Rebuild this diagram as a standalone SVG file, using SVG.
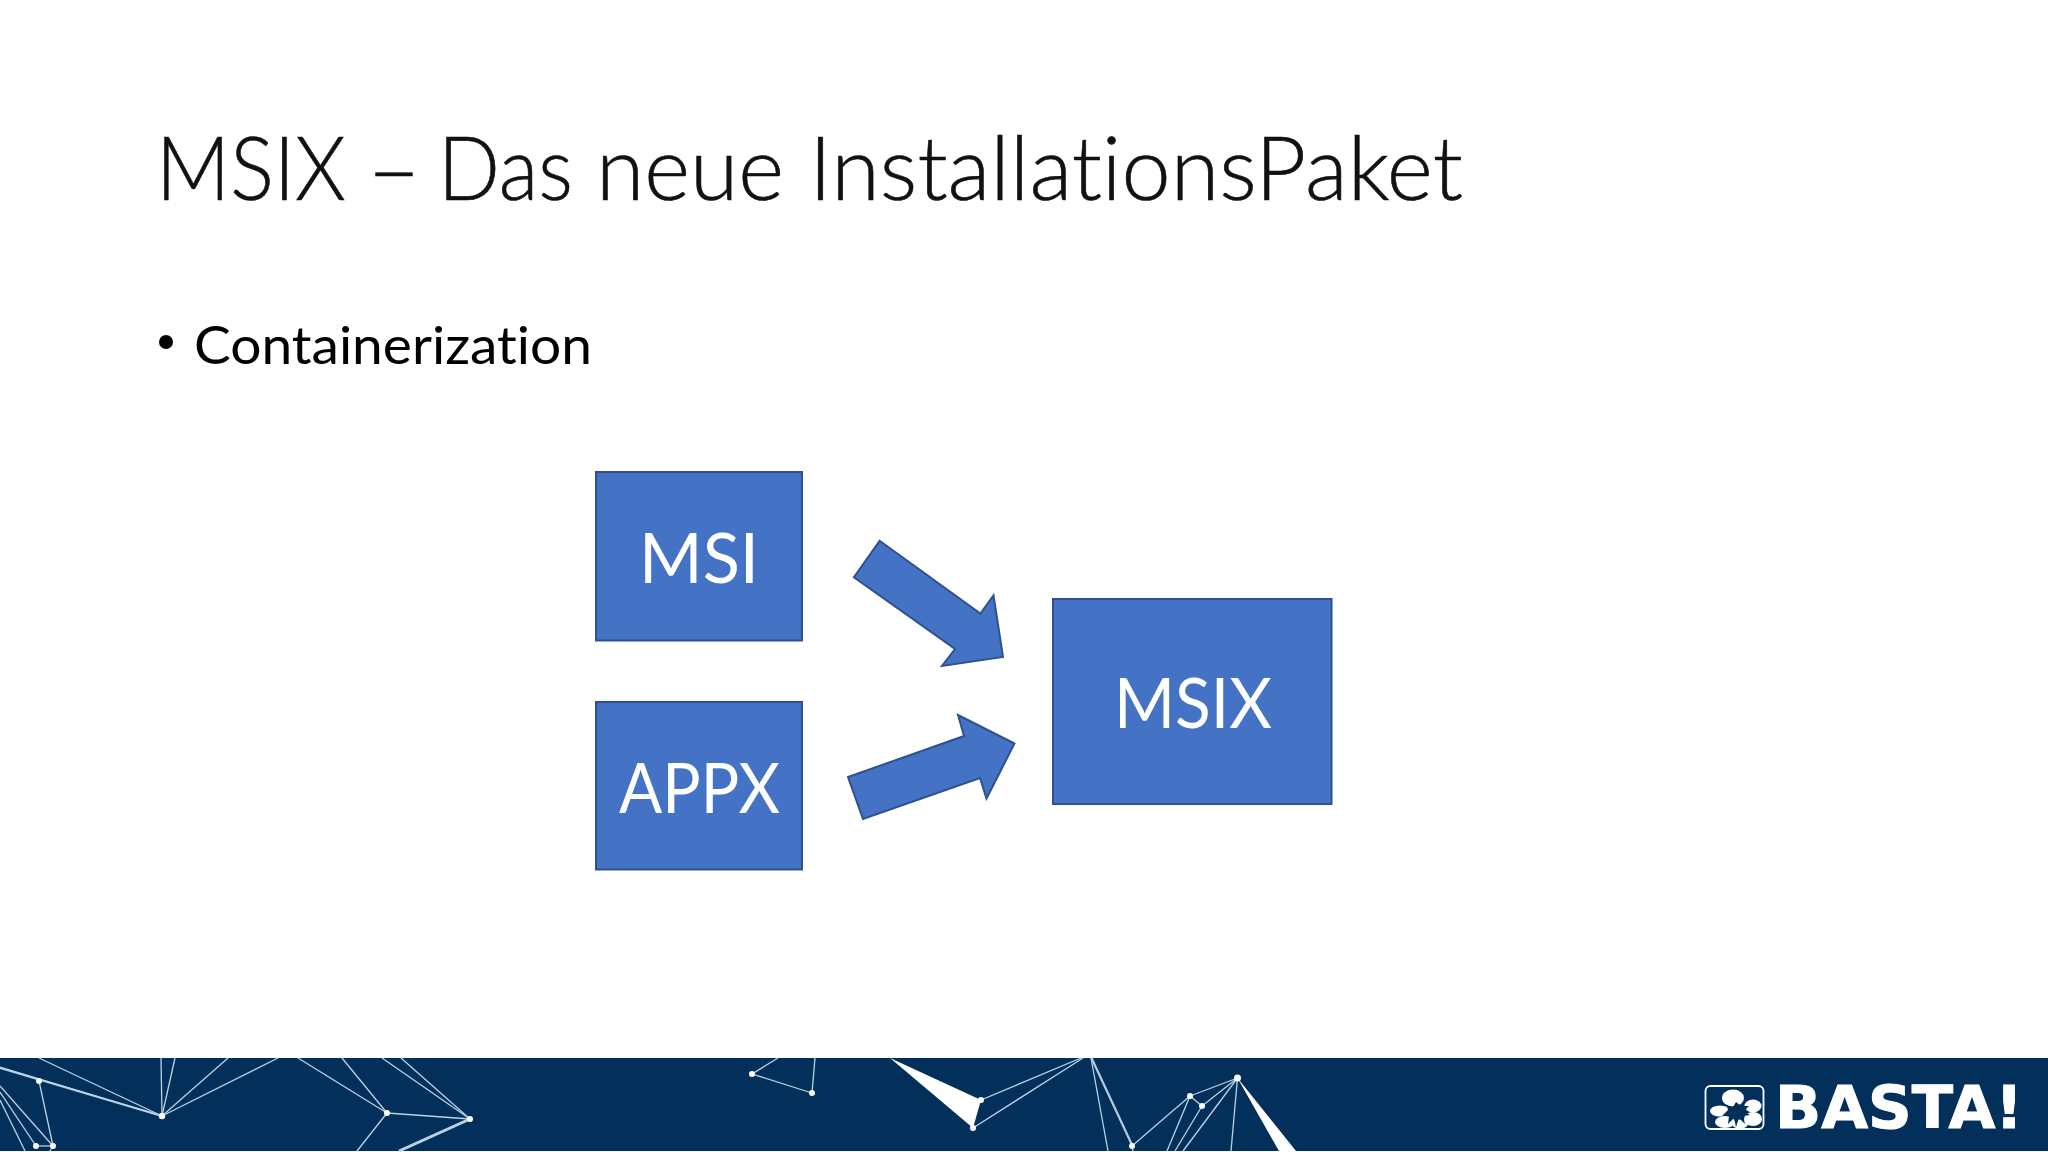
<svg xmlns="http://www.w3.org/2000/svg" width="2048" height="1152" viewBox="0 0 2048 1152">
<defs>
<style>
text{font-variant-ligatures:none}
.box{fill:#4472c4;stroke:#2f528f;stroke-width:2}
.arrow{fill:#4472c4;stroke:#2f528f;stroke-width:2;stroke-linejoin:miter}
.lbl{font-family:"Lato","Liberation Sans",sans-serif;font-weight:400;font-size:70px;fill:#fff}
.net line{stroke:#b9d3e6;stroke-width:1.3}
.net circle{fill:#fff}
</style>
</defs>
<rect width="2048" height="1152" fill="#fff"/>
<text id="title" y="200" font-family="Lato,'Liberation Sans',sans-serif" font-weight="300" font-size="88" fill="#111" stroke="#111" stroke-width="0.6"><tspan x="156" textLength="190" lengthAdjust="spacingAndGlyphs">MSIX</tspan> <tspan x="367" textLength="54" lengthAdjust="spacingAndGlyphs">–</tspan> <tspan x="438" textLength="135" lengthAdjust="spacingAndGlyphs">Das</tspan> <tspan x="596" textLength="188" lengthAdjust="spacingAndGlyphs">neue</tspan> <tspan x="809" textLength="654" lengthAdjust="spacingAndGlyphs">InstallationsPaket</tspan></text>
<circle cx="166" cy="342" r="7" fill="#000"/>
<text id="bullet" x="194" y="364" textLength="398" lengthAdjust="spacingAndGlyphs" font-family="Lato,'Liberation Sans',sans-serif" font-size="53" fill="#000">Containerization</text>
<g id="connectors">
<polygon class="arrow" points="879.6,540.8 980.4,613.5 993.5,595.4 1003,657 942,666 955,649 853.9,577.2"/>
<polygon class="arrow" points="848,777 964,736 958,715 1014.5,743.500 986.500,798.500 980,778 863,819"/>
</g>
<g id="node-msi"><rect class="box" x="596" y="472" width="206" height="168.500"/><text class="lbl" x="639" y="582.500" textLength="120" lengthAdjust="spacingAndGlyphs">MSI</text></g>
<g id="node-appx"><rect class="box" x="596" y="702" width="206" height="167.500"/><text class="lbl" x="619" y="813" textLength="161" lengthAdjust="spacingAndGlyphs">APPX</text></g>
<g id="node-msix"><rect class="box" x="1053" y="599" width="278.500" height="205"/><text class="lbl" x="1114" y="728" textLength="158" lengthAdjust="spacingAndGlyphs">MSIX</text></g>
<g id="footer">
<rect x="0" y="1058" width="2048" height="93" fill="#03305a"/>
<g class="net">
<line x1="39" y1="1058" x2="162" y2="1116"/><line x1="161" y1="1058" x2="162" y2="1116"/><line x1="175" y1="1058" x2="162" y2="1116"/><line x1="228" y1="1058" x2="162" y2="1116"/><line x1="278" y1="1058" x2="162" y2="1116"/>
<line x1="0" y1="1067" x2="162" y2="1116"/><line x1="0" y1="1068" x2="162" y2="1116" style="stroke-width:2"/>
<line x1="39" y1="1081" x2="53" y2="1146"/><line x1="0" y1="1086" x2="53" y2="1146"/><line x1="0" y1="1092" x2="36" y2="1146"/><line x1="0" y1="1100" x2="25" y2="1151"/><line x1="36" y1="1146" x2="53" y2="1146"/><line x1="53" y1="1146" x2="50" y2="1151"/>
<line x1="298" y1="1058" x2="387" y2="1113"/><line x1="342" y1="1058" x2="387" y2="1113"/><line x1="387" y1="1113" x2="470" y2="1119"/><line x1="387" y1="1113" x2="357" y2="1151"/><line x1="382" y1="1058" x2="470" y2="1119"/><line x1="401" y1="1058" x2="470" y2="1119"/><line x1="470" y1="1119" x2="399" y2="1151" style="stroke-width:3"/>
<line x1="778" y1="1058" x2="752" y2="1074"/><line x1="815" y1="1058" x2="812" y2="1093"/><line x1="752" y1="1074" x2="812" y2="1093"/>
<line x1="981" y1="1100" x2="1081" y2="1058"/><line x1="973" y1="1128" x2="1083" y2="1058"/>
<line x1="1091" y1="1058" x2="1132" y2="1146"/><line x1="1092" y1="1058" x2="1133" y2="1146"/><line x1="1091" y1="1058" x2="1108" y2="1151"/><line x1="1132" y1="1146" x2="1133" y2="1151"/>
<line x1="1132" y1="1146" x2="1190" y2="1096"/><line x1="1190" y1="1096" x2="1237.500" y2="1078"/><line x1="1190" y1="1096" x2="1202" y2="1106"/><line x1="1202" y1="1106" x2="1237.500" y2="1078"/><line x1="1190" y1="1096" x2="1167" y2="1151"/><line x1="1202" y1="1106" x2="1175" y2="1151"/><line x1="1237.500" y1="1078" x2="1183" y2="1151"/><line x1="1237.500" y1="1078" x2="1231" y2="1151"/>
<polygon points="890,1058 981,1100 973,1128" fill="#fff"/>
<polygon points="1237.500,1078 1296,1151 1279,1151" fill="#fff"/>
<circle cx="39" cy="1081" r="3"/><circle cx="162" cy="1116" r="3.200"/><circle cx="387" cy="1113" r="3"/><circle cx="470" cy="1119" r="3"/><circle cx="36" cy="1146" r="3"/><circle cx="53" cy="1146" r="3"/><circle cx="752" cy="1074" r="3"/><circle cx="812" cy="1093" r="3"/><circle cx="981" cy="1100" r="3"/><circle cx="973" cy="1128" r="3"/><circle cx="1132" cy="1146" r="3"/><circle cx="1190" cy="1096" r="3"/><circle cx="1202" cy="1106" r="3"/><circle cx="1237.500" cy="1078" r="3.500"/>
</g>
<g id="logo">
<rect x="1705.500" y="1086" width="58" height="43" rx="5" fill="none" stroke="#fff" stroke-width="1.800"/>
<g fill="#fff">
<ellipse cx="1733" cy="1098" rx="11" ry="8.500"/><ellipse cx="1753" cy="1106" rx="8.500" ry="6.500"/><ellipse cx="1753" cy="1119" rx="9" ry="7"/><ellipse cx="1720" cy="1111" rx="10" ry="5.500"/><ellipse cx="1725" cy="1122" rx="10" ry="6"/><ellipse cx="1740" cy="1124" rx="8" ry="4.500"/>
</g>
<polygon points="1736,1102 1741,1106 1749,1106 1744,1111 1750,1115 1743,1116 1745,1124 1739,1118 1736,1127 1734,1118 1728,1124 1729,1116 1722,1116 1728,1110 1727,1106 1733,1107" fill="#03305a"/>
<text x="1775" y="1128" textLength="248" lengthAdjust="spacingAndGlyphs" font-family="'DejaVu Sans',sans-serif" font-weight="700" font-size="58" fill="#fff" stroke="#fff" stroke-width="1">BASTA!</text>
</g>
</g>
</svg>
